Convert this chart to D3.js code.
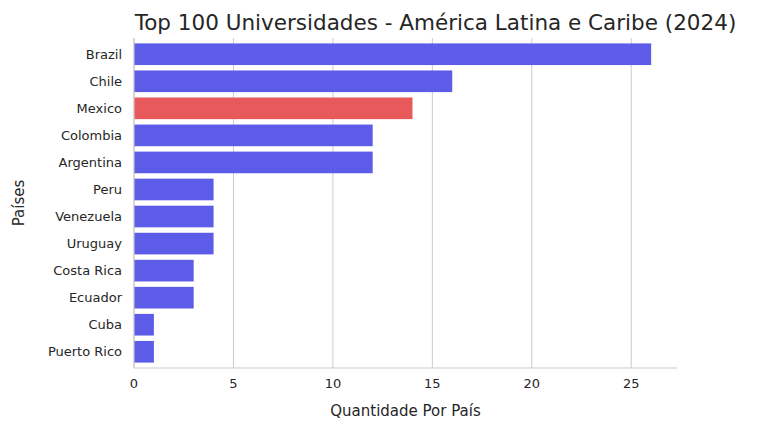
<!DOCTYPE html><html><head><meta charset="utf-8">
<script src="https://cdn.jsdelivr.net/npm/d3@7"></script>
<style>body{margin:0;background:#fff}text{font-family:"DejaVu Sans",sans-serif;fill:#262626}</style>
</head><body><svg id="c" width="765" height="430"></svg>
<script>
const countries=["Brazil","Chile","Mexico","Colombia","Argentina","Peru","Venezuela","Uruguay","Costa Rica","Ecuador","Cuba","Puerto Rico"];
const counts=[26,16,14,12,12,4,4,4,3,3,1,1];
const highlight="Mexico";
const xTicks=[0,5,10,15,20,25];
const svg=d3.select("#c");
const m={l:134,r:677,t:38,b:368};
const x=d3.scaleLinear().domain([0,27.3]).range([m.l,m.r]);
const y=d3.scaleBand().domain(countries).range([m.t,m.b]).padding(0.2);
svg.selectAll(".g").data(xTicks).join("line").attr("x1",d=>x(d)).attr("x2",d=>x(d)).attr("y1",m.t).attr("y2",m.b).attr("stroke","#cccccc").attr("stroke-width",1);
svg.selectAll(".bar").data(countries).join("rect").attr("x",x(0)).attr("y",d=>y(d)).attr("height",y.bandwidth())
 .attr("width",(d,i)=>x(counts[i])-x(0)).attr("fill",d=>d===highlight?"#e8595c":"#5c5ce8");
svg.append("line").attr("x1",m.l).attr("x2",m.l).attr("y1",m.t).attr("y2",m.b).attr("stroke","#cccccc").attr("stroke-width",1.2);
svg.append("line").attr("x1",m.l).attr("x2",m.r).attr("y1",m.b).attr("y2",m.b).attr("stroke","#cccccc").attr("stroke-width",1.2);
svg.selectAll(".yl").data(countries).join("text").attr("x",m.l-12).attr("y",d=>y(d)+y.bandwidth()/2).attr("dy","0.35em").attr("text-anchor","end").attr("font-size",13).text(d=>d);
svg.selectAll(".xl").data(xTicks).join("text").attr("x",d=>x(d)).attr("y",m.b+20).attr("text-anchor","middle").attr("font-size",13).text(d=>d);
svg.append("text").attr("x",(m.l+m.r)/2).attr("y",416).attr("text-anchor","middle").attr("font-size",15).text("Quantidade Por País");
svg.append("text").attr("transform",`translate(24,${(m.t+m.b)/2}) rotate(-90)`).attr("text-anchor","middle").attr("font-size",15).text("Países");
svg.append("text").attr("x",(m.l+m.r)/2+30).attr("y",30).attr("text-anchor","middle").attr("font-size",21.5).text("Top 100 Universidades - América Latina e Caribe (2024)");
</script></body></html>
